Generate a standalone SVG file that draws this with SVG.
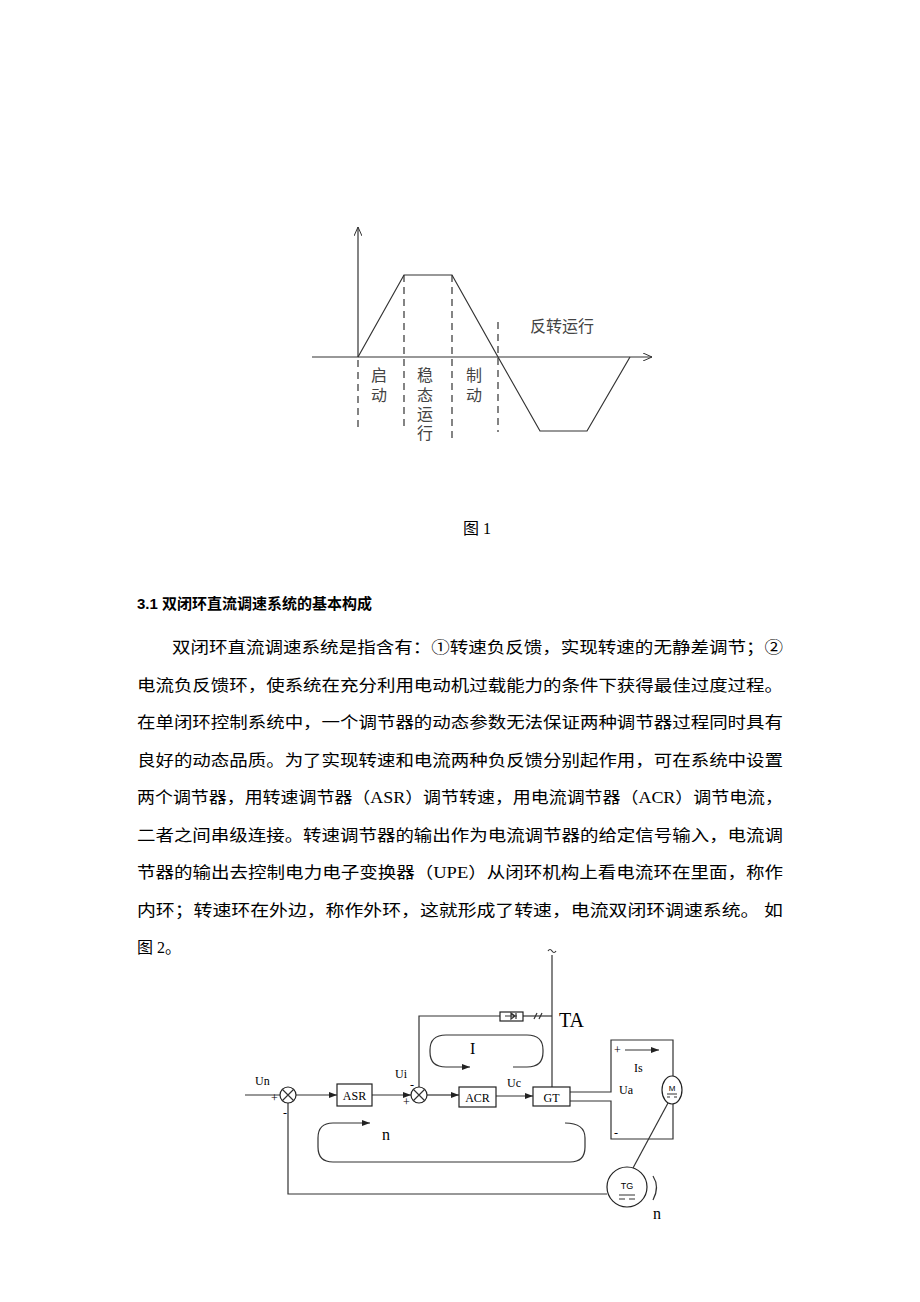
<svg xmlns="http://www.w3.org/2000/svg" width="920" height="1302" viewBox="0 0 920 1302">
<defs>
<marker id="ah" markerWidth="10" markerHeight="8" refX="9" refY="4" orient="auto" markerUnits="userSpaceOnUse"><path d="M0,0 L9,4 L0,8" fill="none" stroke="#333" stroke-width="1"/></marker>
<marker id="af" markerWidth="8" markerHeight="6" refX="8" refY="3" orient="auto" markerUnits="userSpaceOnUse"><path d="M0,0 L8,3 L0,6 Z" fill="#222"/></marker>
</defs>
<style>
.l{fill:none;stroke:#333;stroke-width:1.2}
.d{fill:none;stroke:#333;stroke-width:1.2;stroke-dasharray:7,5}
.b{fill:#fff;stroke:#222;stroke-width:1.2}
.c{font-family:"Liberation Sans","Noto Sans CJK SC",sans-serif;fill:#444;font-size:16px}
.p{font-family:"Liberation Serif","Noto Sans CJK SC",serif;fill:#000;font-size:16px}
.s{font-family:"Liberation Serif",serif;fill:#000;font-size:12px}
</style>
<rect width="920" height="1302" fill="#fff"/>
<g id="fig1">
<line class="l" x1="358" y1="357" x2="358" y2="227" marker-end="url(#ah)"/>
<line class="l" x1="312" y1="357" x2="652" y2="357" marker-end="url(#ah)"/>
<polyline class="l" points="358,357 404,275 452,275 498,357 540,431 587,431 630,357"/>
<line class="d" x1="358" y1="360" x2="358" y2="432"/>
<line class="d" x1="404" y1="275" x2="404" y2="430"/>
<line class="d" x1="452" y1="275" x2="452" y2="438"/>
<line class="d" x1="498" y1="322" x2="498" y2="432"/>
<text class="c" x="371" y="381">启</text><text class="c" x="371" y="401">动</text>
<text class="c" x="417" y="381">稳</text><text class="c" x="417" y="401">态</text><text class="c" x="417" y="420">运</text><text class="c" x="417" y="439">行</text>
<text class="c" x="466" y="381">制</text><text class="c" x="466" y="401">动</text>
<text class="c" x="530" y="332">反转运行</text>
</g>
<text class="p" x="463" y="534">图 1</text>
<text x="137" y="609" style="font-family:'Liberation Sans','Noto Sans CJK SC',sans-serif;font-weight:bold;font-size:15px">3.1 双闭环直流调速系统的基本构成</text>
<g class="p">
<text x="172" y="653" textLength="611" lengthAdjust="spacingAndGlyphs">双闭环直流调速系统是指含有：①转速负反馈，实现转速的无静差调节；②</text>
<text x="137" y="691" textLength="646" lengthAdjust="spacingAndGlyphs">电流负反馈环，使系统在充分利用电动机过载能力的条件下获得最佳过度过程。</text>
<text x="137" y="728" textLength="646" lengthAdjust="spacingAndGlyphs">在单闭环控制系统中，一个调节器的动态参数无法保证两种调节器过程同时具有</text>
<text x="137" y="766" textLength="646" lengthAdjust="spacingAndGlyphs">良好的动态品质。为了实现转速和电流两种负反馈分别起作用，可在系统中设置</text>
<text x="137" y="803" textLength="646" lengthAdjust="spacingAndGlyphs">两个调节器，用转速调节器（ASR）调节转速，用电流调节器（ACR）调节电流，</text>
<text x="137" y="841" textLength="646" lengthAdjust="spacingAndGlyphs">二者之间串级连接。转速调节器的输出作为电流调节器的给定信号输入，电流调</text>
<text x="137" y="878" textLength="646" lengthAdjust="spacingAndGlyphs">节器的输出去控制电力电子变换器（UPE）从闭环机构上看电流环在里面，称作</text>
<text x="137" y="916" textLength="646" lengthAdjust="spacingAndGlyphs">内环；转速环在外边，称作外环，这就形成了转速，电流双闭环调速系统。 如</text>
<text x="137" y="953">图 2。</text>
</g>
<g id="connectors">
<line class="l" x1="245" y1="1095" x2="280" y2="1095"/>
<line class="l" x1="296" y1="1095" x2="337" y2="1095" marker-end="url(#af)"/>
<line class="l" x1="372" y1="1095" x2="411" y2="1095" marker-end="url(#af)"/>
<line class="l" x1="427" y1="1095" x2="459" y2="1095" marker-end="url(#af)"/>
<line class="l" x1="496" y1="1096" x2="533" y2="1096" marker-end="url(#af)"/>
<polyline class="l" points="419,1087 419,1016 500,1016"/>
<line class="l" x1="523" y1="1016" x2="552" y2="1016"/>
<path class="l" d="M534,1019 L537,1013 M539,1019 L542,1013"/>
<line class="l" x1="552" y1="955" x2="552" y2="1087"/>
<path class="l" d="M548,951 q2,-3 4,0 t4,0"/>
<polyline class="l" points="570,1092 611,1092 611,1040 673,1040 673,1077"/>
<polyline class="l" points="570,1101 611,1101 611,1139 673,1139 673,1104"/>
<line class="l" x1="625" y1="1050" x2="659" y2="1050" marker-end="url(#af)"/>
<line class="l" x1="668" y1="1103" x2="633" y2="1168"/>
<polyline class="l" points="288,1103 288,1194 607,1194"/>
<path class="l" d="M513,1067 L527,1067 Q543,1067 543,1052 L543,1050 Q543,1035 527,1035 L446,1035 Q430,1035 430,1050 L430,1052 Q430,1067 446,1067 L470,1067" marker-end="url(#af)"/>
<path class="l" d="M565,1123 Q585,1123 585,1138 L585,1147 Q585,1162 570,1162 L333,1162 Q318,1162 318,1147 L318,1138 Q318,1123 333,1123 L370,1123" marker-end="url(#af)"/>
<path class="l" d="M653,1176 Q660,1187 653,1200"/>
</g>
<g id="sum1"><circle class="b" cx="288" cy="1095" r="8"/><path class="l" d="M282,1089 L294,1101 M294,1089 L282,1101"/></g>
<g id="sum2"><circle class="b" cx="419" cy="1095" r="8"/><path class="l" d="M413,1089 L425,1101 M425,1089 L413,1101"/></g>
<g id="asr"><rect class="b" x="337" y="1084" width="35" height="22"/><text class="s" x="354.5" y="1100" text-anchor="middle">ASR</text></g>
<g id="acr"><rect class="b" x="459" y="1087" width="37" height="20"/><text class="s" x="477.5" y="1102" text-anchor="middle">ACR</text></g>
<g id="gt"><rect class="b" x="533" y="1087" width="37" height="19"/><text class="s" x="551.5" y="1102" text-anchor="middle" font-size="14">GT</text></g>
<g id="diode"><rect class="b" x="500" y="1012" width="23" height="9"/><path class="l" d="M505,1016 L517,1016 M511,1013 L511,1019 L515,1016 Z M516,1013 L516,1019"/></g>
<g id="motor"><ellipse class="b" cx="672" cy="1090" rx="10" ry="14"/><text x="672" y="1091" text-anchor="middle" style="font-family:'Liberation Sans',sans-serif;font-size:8px">M</text><path class="l" d="M667,1094 L677,1094 M667,1097 L670,1097 M674,1097 L677,1097" stroke-width="0.8"/></g>
<g id="tg"><circle class="b" cx="627" cy="1187" r="20"/><text x="627" y="1189" text-anchor="middle" style="font-family:'Liberation Sans',sans-serif;font-size:9px">TG</text><path class="l" d="M619,1195 L635,1195 M619,1199 L625,1199 M629,1199 L635,1199" stroke-width="0.8"/></g>
<g class="s" font-size="13">
<text x="255" y="1085">Un</text><text x="271" y="1102">+</text><text x="283" y="1117">-</text>
<text x="395" y="1078">Ui</text><text x="410" y="1089">-</text><text x="403" y="1106">+</text>
<text x="507" y="1087">Uc</text>
<text x="614" y="1054">+</text><text x="634" y="1072">Is</text><text x="619" y="1094">Ua</text><text x="614" y="1137">-</text>
<text x="470" y="1054" font-size="16">I</text>
<text x="382" y="1140" font-size="16">n</text>
<text x="653" y="1219" font-size="16">n</text>
<text x="559" y="1027" font-size="20">TA</text>
</g>
</svg>
